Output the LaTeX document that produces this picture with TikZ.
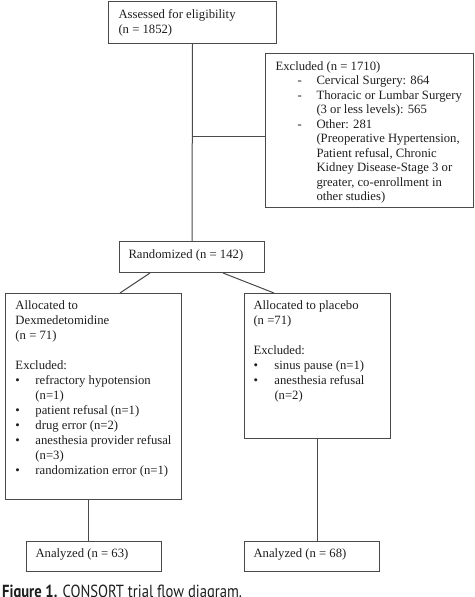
\documentclass[tikz,border=0pt]{standalone}
\usepackage{fontspec}
\setmainfont{Liberation Serif}
\newfontfamily\capfont{PT Sans}
\usetikzlibrary{calc}
\definecolor{txt}{HTML}{1E1E1E}
\definecolor{ln}{HTML}{4A4A4A}
\newcommand{\bxtext}[4]{\parbox[c][#2][t]{#1}{\parskip=0pt\rule{0pt}{#3}#4}}
\newcommand{\myitem}[2]{\makebox[#1][l]{\textbullet}#2}
\newcommand{\mydash}[1]{\hspace*{22pt}\makebox[19pt][l]{-}#1}
\begin{document}
\begin{tikzpicture}[x=1pt,y=-1pt,
  box/.style={draw=ln, line width=1pt, anchor=north west, inner ysep=0pt, align=left, text=txt,
    font=\fontsize{12.7}{15}\selectfont},
  conn/.style={draw=ln, line width=1pt}]
\useasboundingbox (0,0) rectangle (474,597);
% boxes
\node[box, inner xsep=10pt, minimum width=168pt, minimum height=42pt] (top) at (108,1)
  {\bxtext{148pt}{42pt}{16.5pt}{Assessed for eligibility\\ \ (n = 1852)}};
\node[box, inner xsep=10pt, minimum width=208pt, minimum height=154pt] (excl) at (265,53)
  {\bxtext{188pt}{154pt}{16.5pt}{\baselineskip=14.5pt Excluded (n = 1710)\\
   \mydash{Cervical Surgery: 864}\\
   \mydash{Thoracic or Lumbar Surgery}\\
   \hspace*{41pt}(3 or less levels): 565\\
   \mydash{Other: 281}\\
   \hspace*{41pt}(Preoperative Hypertension,\\
   \hspace*{41pt}Patient refusal, Chronic\\
   \hspace*{41pt}Kidney Disease-Stage 3 or\\
   \hspace*{41pt}greater, co-enrollment in\\
   \hspace*{41pt}other studies)}};
\node[box, inner xsep=9pt, minimum width=145pt, minimum height=31pt] (rand) at (119,241)
  {\bxtext{127pt}{31pt}{17pt}{Randomized (n = 142)}};
\node[box, inner xsep=10pt, minimum width=176pt, minimum height=206pt] (alloc1) at (5,293)
  {\bxtext{156pt}{206pt}{16pt}{Allocated to\\
   Dexmedetomidine\\
   (n = 71)\\[15pt]
   Excluded:\\
   \myitem{20pt}{refractory hypotension}\\
   \hspace*{20pt}(n=1)\\
   \myitem{20pt}{patient refusal (n=1)}\\
   \myitem{20pt}{drug error (n=2)}\\
   \myitem{20pt}{anesthesia provider refusal}\\
   \hspace*{20pt}(n=3)\\
   \myitem{20pt}{randomization error (n=1)}}};
\node[box, inner xsep=9pt, minimum width=146pt, minimum height=145pt] (alloc2) at (244,293)
  {\bxtext{128pt}{145pt}{16pt}{Allocated to placebo\\
   (n =71)\\[15pt]
   Excluded:\\
   \myitem{21pt}{sinus pause (n=1)}\\
   \myitem{21pt}{anesthesia refusal}\\
   \hspace*{21pt}(n=2)}};
\node[box, inner xsep=9pt, minimum width=135pt, minimum height=30pt] (an1) at (26,541)
  {\bxtext{117pt}{30pt}{15.7pt}{Analyzed (n = 63)}};
\node[box, inner xsep=9pt, minimum width=135pt, minimum height=30pt] (an2) at (244,541)
  {\bxtext{117pt}{30pt}{15.7pt}{Analyzed (n = 68)}};
% connectors
\draw[conn] (top.south) -- (rand.north);
\coordinate (j) at (192,136.5);
\draw[conn] (j) -- (j -| excl.west);
\draw[conn] ([xshift=31pt]rand.south west) -- ([xshift=115pt]alloc1.north west);
\draw[conn] ([xshift=104pt]rand.south west) -- ([xshift=30pt]alloc2.north west);
\draw[conn] ([xshift=83pt]alloc1.south west) -- ([xshift=62pt]an1.north west);
\draw[conn] (alloc2.south) -- (alloc2.south |- an2.north);
% caption
\node[anchor=base west, inner sep=0pt, text=txt, font=\capfont\fontsize{17.5}{20}\selectfont] (cap) at (2,597.5)
  {\scalebox{0.835}[1]{\textbf{Figure 1.} CONSORT trial flow diagram.}};
\end{tikzpicture}
\end{document}
